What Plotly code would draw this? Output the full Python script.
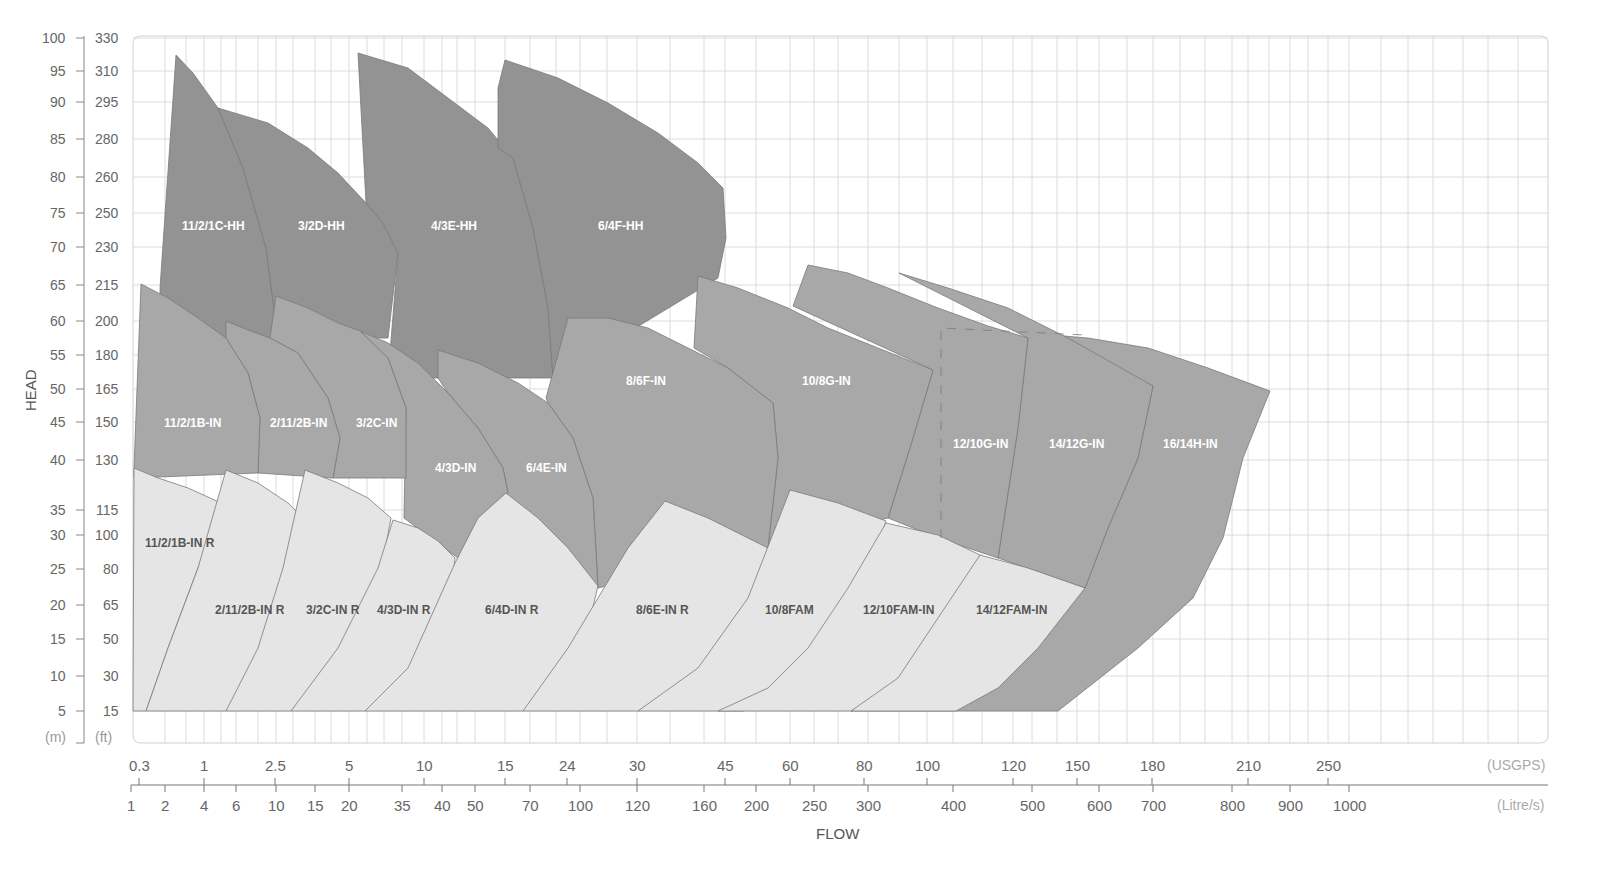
import plotly.graph_objects as go

# ---- axis data (positions in chart units) ----
head_m = [5,10,15,20,25,30,35,40,45,50,55,60,65,70,75,80,85,90,95,100]
head_ft = [15,30,50,65,80,100,115,130,150,165,180,200,215,230,250,260,280,295,310,330]
head_pos = [703,668,631,597,561,527,502,452,414,381,347,313,277,239,205,169,131,94,63,30]
lps_lab = ["1","2","4","6","10","15","20","35","40","50","70","100","120","160","200","250","300","400","500","600","700","800","900","1000"]
lps_pos = [123,157,196,228,268,307,341,394,434,467,522,572,629,696,748,806,860,945,1024,1091,1145,1224,1282,1341]
gps_lab = ["0.3","1","2.5","5","10","15","24","30","45","60","80","100","120","150","180","210","250"]
gps_pos = [131,196,267,341,416,497,559,629,717,782,856,919,1005,1069,1144,1240,1320]
vgrid = [157,178,196,213,228,250,268,285,307,323,341,359,376,394,416,434,449,467,497,522,548,572,599,629,
         662,696,717,748,782,806,830,860,891,919,945,974,1005,1024,1049,1069,1091,1119,1145,1172,1197,1224,
         1240,1261,1282,1300,1320,1341,1373,1400,1425,1455,1480,1510]

# ---- envelopes ----
hh_names = ["11/2/1C-HH","3/2D-HH","4/3E-HH","6/4F-HH"]
hh_shapes = [
 [(152,280),(168,47),(185,65),(210,100),(235,160),(258,240),(270,330),(152,330)],
 [(210,100),(260,115),(300,140),(330,165),(358,195),(375,215),(390,245),(380,330),(270,330),(258,240),(235,160)],
 [(350,45),(400,60),(440,90),(480,120),(505,150),(525,220),(540,300),(545,370),(380,370),(390,245),(375,215),(358,195)],
 [(490,80),(497,52),(550,70),(600,95),(650,125),(690,155),(715,180),(718,230),(710,270),(545,370),(540,300),(525,220),(505,150),(490,140)],
]
hh_lab = [(205,218),(313,218),(446,218),(612,218)]

in_names = ["16/14H-IN","14/12G-IN","12/10G-IN","10/8G-IN","8/6F-IN","6/4E-IN","4/3D-IN","3/2C-IN","2/11/2B-IN","11/2/1B-IN"]
in_shapes = [
 [(1020,325),(1080,330),(1140,340),(1200,360),(1262,383),(1235,450),(1215,530),(1185,590),(1130,640),(1050,703),(843,703),(1000,660),(1077,580),(1100,520),(1130,450),(1145,378)],
 [(891,265),(940,280),(1000,300),(1060,330),(1145,378),(1130,450),(1100,520),(1077,580),(990,550),(1010,420),(1020,330)],
 [(785,298),(800,257),(840,265),(880,280),(930,300),(980,318),(1020,330),(1010,420),(990,550),(930,530),(880,510),(905,430),(925,362)],
 [(686,340),(690,268),(730,280),(780,300),(820,320),(870,340),(925,362),(905,430),(880,510),(760,540),(770,450),(765,395),(720,360)],
 [(538,390),(560,310),(600,310),(640,320),(680,340),(720,360),(765,395),(770,450),(760,540),(590,580),(585,490),(565,430),(540,395)],
 [(430,370),(430,342),(470,355),(510,375),(540,395),(565,430),(585,490),(590,580),(450,550),(500,485),(495,460),(470,420),(440,385)],
 [(352,323),(380,335),(410,355),(440,385),(470,420),(495,460),(500,485),(450,550),(396,510),(398,400),(380,350)],
 [(262,330),(268,288),(300,300),(330,315),(352,323),(380,350),(398,400),(398,470),(325,470),(332,430),(320,390),(290,345)],
 [(218,330),(218,313),(240,322),(262,330),(290,345),(320,390),(332,430),(325,470),(250,465),(252,410),(240,365)],
 [(126,460),(133,276),(160,290),(190,310),(218,330),(240,365),(252,410),(250,465),(126,470)],
]
in_lab = [(1182,436),(1068,436),(972,436),(818,373),(638,373),(538,460),(447,460),(368,415),(290,415),(184,415)]

r_names = ["11/2/1B-IN R","2/11/2B-IN R","3/2C-IN R","4/3D-IN R","6/4D-IN R","8/6E-IN R","10/8FAM","12/10FAM-IN","14/12FAM-IN"]
r_shapes = [
 [(125,703),(126,460),(150,470),(180,480),(213,495),(190,560),(160,640),(138,703)],
 [(138,703),(160,640),(190,560),(218,462),(250,475),(280,495),(308,522),(300,590),(270,650),(218,703)],
 [(218,703),(250,640),(275,560),(297,462),(330,475),(360,490),(383,510),(370,580),(330,650),(283,703)],
 [(283,703),(330,640),(370,560),(385,512),(410,520),(430,533),(447,550),(440,620),(400,670),(357,703)],
 [(357,703),(400,660),(447,555),(470,510),(498,485),(530,510),(560,540),(590,578),(575,640),(545,680),(515,703)],
 [(515,703),(560,640),(620,540),(657,493),(700,510),(730,525),(760,540),(740,610),(690,670),(630,703)],
 [(630,703),(690,660),(740,590),(782,482),(830,495),(878,513),(850,600),(800,660),(735,703)],
 [(710,703),(760,680),(800,640),(840,580),(878,515),(930,527),(972,547),(940,620),(900,670),(843,703)],
 [(843,703),(890,670),(930,610),(972,547),(1020,560),(1077,580),(1030,640),(990,680),(948,703)],
]
r_lab = [(172,535),(242,602),(325,602),(396,602),(504,602),(654,602),(781,602),(890,602),(1003,602)]

fig = go.Figure()
def poly(pts, fill):
    xs = [p[0] for p in pts] + [pts[0][0]]
    ys = [p[1] for p in pts] + [pts[0][1]]
    fig.add_trace(go.Scatter(x=xs, y=ys, mode="lines", fill="toself", fillcolor=fill,
                             line=dict(color="#7a7a7a", width=0.8), hoverinfo="skip", showlegend=False))
for s in hh_shapes: poly(s, "#939393")
for s in in_shapes: poly(s, "#a8a8a8")
for s in r_shapes: poly(s, "#e5e5e5")
# dashed boundary 12/10G
fig.add_trace(go.Scatter(x=[933,933,1077], y=[530,320,327], mode="lines",
                         line=dict(color="#7a7a7a", width=0.8, dash="dash"), hoverinfo="skip", showlegend=False))

ann = []
for n,(x,y) in zip(hh_names, hh_lab):
    ann.append(dict(x=x,y=y,text="<b>%s</b>"%n,showarrow=False,font=dict(color="white",size=12)))
for n,(x,y) in zip(in_names, in_lab):
    ann.append(dict(x=x,y=y,text="<b>%s</b>"%n,showarrow=False,font=dict(color="white",size=12)))
for n,(x,y) in zip(r_names, r_lab):
    ann.append(dict(x=x,y=y,text="<b>%s</b>"%n,showarrow=False,font=dict(color="#555",size=12)))

lab_col = "#666"
for m,f,p in zip(head_m, head_ft, head_pos):
    ann.append(dict(x=60,y=p,text=str(m),showarrow=False,xanchor="right",font=dict(color=lab_col,size=14)))
    ann.append(dict(x=113,y=p,text=str(f),showarrow=False,xanchor="right",font=dict(color=lab_col,size=14)))
ann.append(dict(x=60,y=729,text="(m)",showarrow=False,xanchor="right",font=dict(color="#999",size=14)))
ann.append(dict(x=106,y=729,text="(ft)",showarrow=False,xanchor="right",font=dict(color="#999",size=14)))
for l,p in zip(gps_lab, gps_pos):
    ann.append(dict(x=p,y=757,text=l,showarrow=False,font=dict(color=lab_col,size=15)))
for l,p in zip(lps_lab, lps_pos):
    ann.append(dict(x=p,y=797,text=l,showarrow=False,font=dict(color=lab_col,size=15)))
ann.append(dict(x=1508,y=757,text="(USGPS)",showarrow=False,font=dict(color="#aaa",size=14)))
ann.append(dict(x=1512,y=797,text="(Litre/s)",showarrow=False,font=dict(color="#aaa",size=14)))
ann.append(dict(x=830,y=825,text="FLOW",showarrow=False,font=dict(color="#555",size=15)))
ann.append(dict(x=22,y=382,text="HEAD",showarrow=False,textangle=-90,font=dict(color="#555",size=15)))

shapes = []
for p in head_pos:
    shapes.append(dict(type="line",x0=125,x1=1540,y0=p,y1=p,line=dict(color="#dcdcdc",width=1),layer="below"))
    shapes.append(dict(type="line",x0=68,x1=76,y0=p,y1=p,line=dict(color="#888",width=1)))
for v in vgrid:
    shapes.append(dict(type="line",x0=v,x1=v,y0=28,y1=735,line=dict(color="#dcdcdc",width=1),layer="below"))
shapes.append(dict(type="path",path="M 133,28 L 1532,28 Q 1540,28 1540,36 L 1540,727 Q 1540,735 1532,735 L 133,735 Q 125,735 125,727 L 125,36 Q 125,28 133,28 Z",
                   line=dict(color="#d0d0d0",width=1),layer="below"))
shapes.append(dict(type="line",x0=76,x1=76,y0=28,y1=735,line=dict(color="#888",width=1)))
shapes.append(dict(type="line",x0=68,x1=76,y0=735,y1=735,line=dict(color="#888",width=1)))
shapes.append(dict(type="line",x0=123,x1=1540,y0=777,y1=777,line=dict(color="#777",width=1)))
for p in gps_pos:
    shapes.append(dict(type="line",x0=p,x1=p,y0=770,y1=777,line=dict(color="#777",width=1)))
for p in lps_pos:
    shapes.append(dict(type="line",x0=p,x1=p,y0=777,y1=784,line=dict(color="#777",width=1)))

fig.update_layout(width=1600,height=869,margin=dict(l=0,r=0,t=0,b=0),
                  paper_bgcolor="white",plot_bgcolor="white",
                  xaxis=dict(range=[0,1600],visible=False,fixedrange=True),
                  yaxis=dict(range=[869,0],visible=False,fixedrange=True),
                  annotations=ann,shapes=shapes,
                  font=dict(family="Helvetica, Arial, Liberation Sans, sans-serif"))
fig.write_html("out.html")
